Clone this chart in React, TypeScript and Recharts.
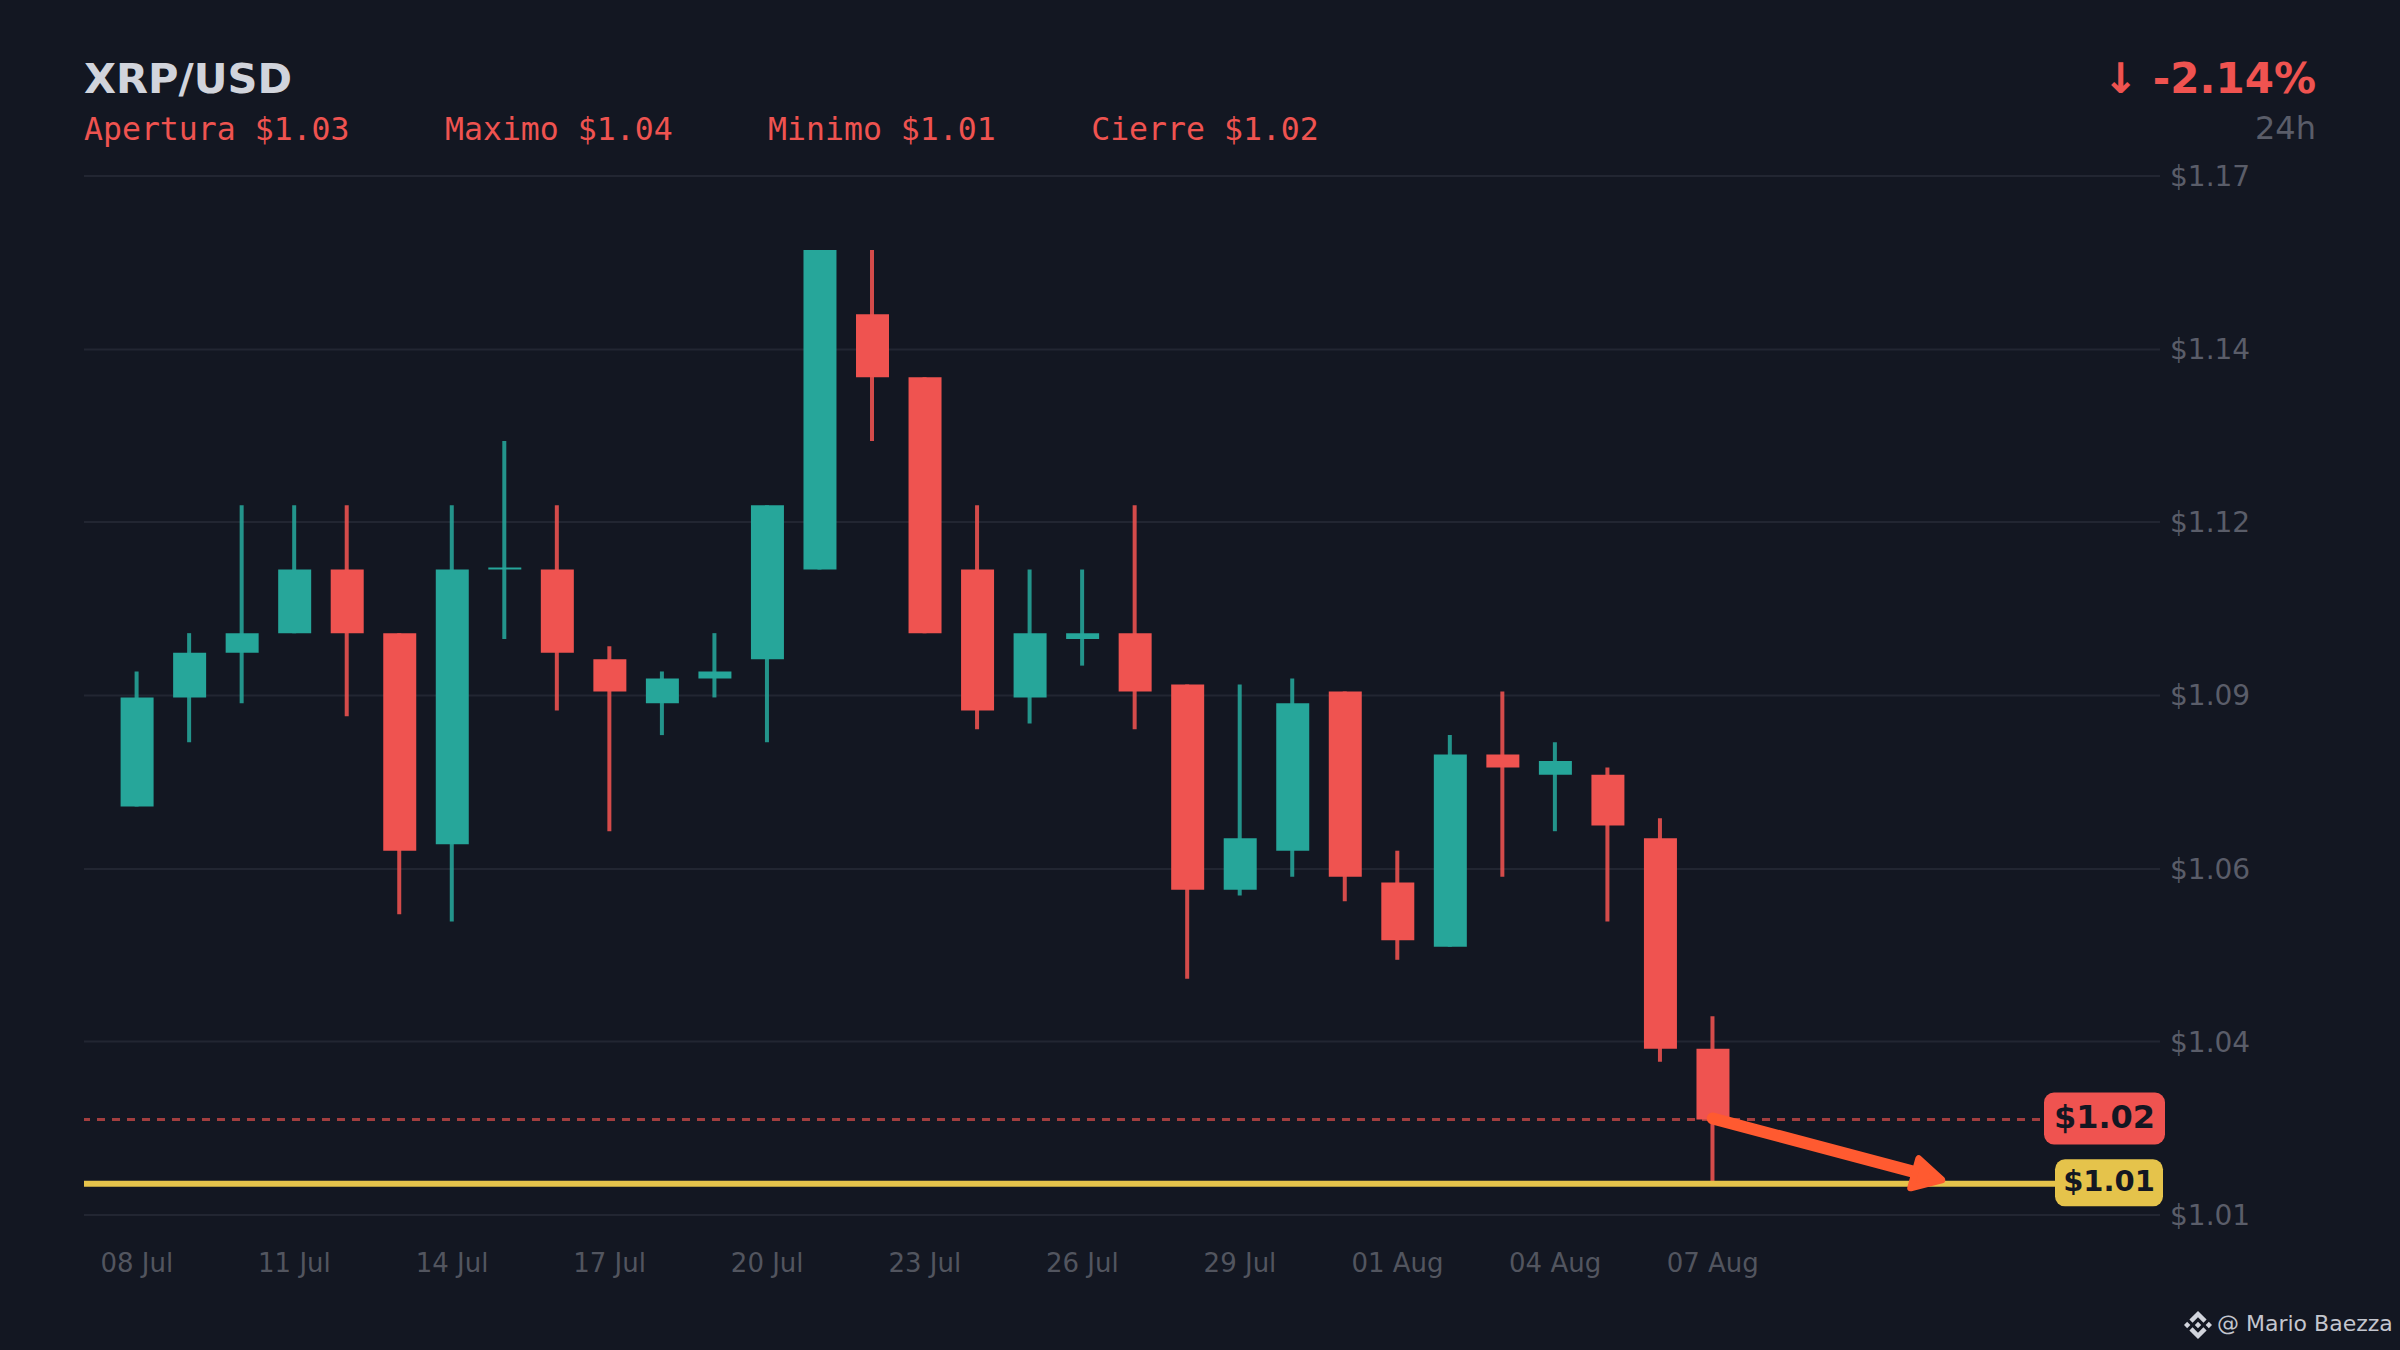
import { Bar, CartesianGrid, Cell, ComposedChart, ReferenceLine, XAxis, YAxis } from "recharts"

const dates = [
  "08 Jul", "09 Jul", "10 Jul", "11 Jul", "12 Jul", "13 Jul", "14 Jul", "15 Jul", "16 Jul", "17 Jul",
  "18 Jul", "19 Jul", "20 Jul", "21 Jul", "22 Jul", "23 Jul", "24 Jul", "25 Jul", "26 Jul", "27 Jul",
  "28 Jul", "29 Jul", "30 Jul", "31 Jul", "01 Aug", "02 Aug", "03 Aug", "04 Aug", "05 Aug", "06 Aug", "07 Aug",
]
const opens = [
  1.0729, 1.0897, 1.0966, 1.0996, 1.1094, 1.0996, 1.0671, 1.1094, 1.1094, 1.0956,
  1.0888, 1.0926, 1.0956, 1.1094, 1.1487, 1.139, 1.1094, 1.0897, 1.0987, 1.0996,
  1.0917, 1.0601, 1.0661, 1.0906, 1.0612, 1.0513, 1.0809, 1.0778, 1.0778, 1.068, 1.0356,
]
const highs = [
  1.0937, 1.0996, 1.1193, 1.1193, 1.1193, 1.0996, 1.1193, 1.1292, 1.1193, 1.0976,
  1.0937, 1.0996, 1.1193, 1.1586, 1.1586, 1.139, 1.1193, 1.1094, 1.1094, 1.1193,
  1.0917, 1.0917, 1.0926, 1.0906, 1.0661, 1.0839, 1.0906, 1.0828, 1.0789, 1.0711, 1.0406,
]
const lows = [
  1.0729, 1.0828, 1.0888, 1.0996, 1.0868, 1.0563, 1.0552, 1.0987, 1.0877, 1.0691,
  1.0839, 1.0897, 1.0828, 1.1094, 1.1292, 1.0996, 1.0848, 1.0857, 1.0946, 1.0848,
  1.0464, 1.0592, 1.0621, 1.0583, 1.0493, 1.0513, 1.0621, 1.0691, 1.0552, 1.0336, 1.0148,
]
const closes = [
  1.0897, 1.0966, 1.0996, 1.1094, 1.0996, 1.0661, 1.1094, 1.1097, 1.0966, 1.0906,
  1.0926, 1.0937, 1.1193, 1.1586, 1.139, 1.0996, 1.0877, 1.0996, 1.0996, 1.0906,
  1.0601, 1.068, 1.0888, 1.0621, 1.0523, 1.0809, 1.0789, 1.0799, 1.07, 1.0356, 1.0247,
]
const priceTicks = [1.01, 1.0367, 1.0633, 1.09, 1.1167, 1.1433, 1.17]
const lastClose = 1.0247
const periodLow = 1.0148
const stats = ["Apertura $1.03", "Maximo $1.04", "Minimo $1.01", "Cierre $1.02"]

const BG = "#131722"
const UP = "#26a69a"
const DOWN = "#ef5350"
const GOLD = "#e5c34b"
const ARROW = "#ff5a30"
const MUTED = "#5a5d69"
const SANS = "'DejaVu Sans', sans-serif"

const rows = dates.map((date, i) => ({
  date,
  wick: [lows[i], highs[i]],
  body: [Math.min(opens[i], closes[i]), Math.max(opens[i], closes[i])],
  up: closes[i] >= opens[i],
}))

// value tag on the right edge, hung on the reference line it belongs to
function PriceTag({ viewBox, text, fill, w, h, size, right }: any) {
  const x = viewBox.x + viewBox.width + right - w
  const cy = viewBox.y - 1
  return (
    <g>
      <rect x={x} y={cy - h / 2} width={w} height={h} rx={10} fill={fill} />
      <text x={x + w / 2} y={cy + size * 0.33 - 1.5} textAnchor="middle" fontFamily={SANS} fontWeight="bold" fontSize={size} fill={BG}>
        {text}
      </text>
    </g>
  )
}

function DropArrow({ x1, y1, y2 }: any) {
  const tipX = x1 + 233
  const tipY = y2 - 4
  return (
    <g>
      <line x1={x1} y1={y1 - 1} x2={tipX - 28} y2={tipY - 7} stroke={ARROW} strokeWidth={12} strokeLinecap="round" />
      <polygon
        points={`${tipX - 4},${tipY} ${tipX - 27},${tipY - 21} ${tipX - 35},${tipY + 8}`}
        fill={ARROW}
        stroke={ARROW}
        strokeWidth={7}
        strokeLinejoin="round"
      />
    </g>
  )
}

function BinanceMark() {
  return (
    <svg x={2184} y={1311} width={28} height={28} viewBox="0 0 126.61 126.61" fill="#d1d4dc">
      <path d="M38.73 53.2l24.59-24.58 24.6 24.6 14.3-14.31L63.32 0 24.42 38.9z" />
      <path d="M0 63.31l14.3-14.31 14.31 14.31-14.31 14.3z" />
      <path d="M38.73 73.41l24.59 24.59 24.6-24.6 14.31 14.29-38.9 38.91-38.91-38.88z" />
      <path d="M98 63.31l14.3-14.31 14.31 14.3-14.31 14.32z" />
      <path d="M77.83 63.3L63.32 48.78 52.59 59.51l-1.24 1.23-2.54 2.54 14.51 14.5 14.51-14.47z" />
    </svg>
  )
}

const textAt = (left: number, top: number, extra: any): any => ({
  position: "absolute",
  left,
  top,
  whiteSpace: "pre",
  lineHeight: 1,
  ...extra,
})

export default function App() {
  return (
    <div style={{ position: "absolute", left: 0, top: 0, width: 2400, height: 1350, background: BG, overflow: "hidden" }}>
      <ComposedChart
        width={2400}
        height={1350}
        data={rows}
        margin={{ top: 176, right: 0, bottom: 35, left: 84 }}
      >
        <CartesianGrid vertical={false} xAxisId="ticks" stroke="#2a2e39" strokeOpacity={0.7} strokeWidth={2} />
        <XAxis
          xAxisId="ticks"
          dataKey="date"
          interval={2}
          height={100}
          padding={{ left: 26.6, right: 421 }}
          axisLine={false}
          tickLine={false}
          tickMargin={3}
          tick={{ fill: "#52555f", fontSize: 26, fontFamily: SANS }}
        />
        <XAxis xAxisId="bodies" dataKey="date" hide padding={{ left: 26.6, right: 421 }} />
        <YAxis
          orientation="right"
          width={240}
          domain={[1.01, 1.17]}
          ticks={priceTicks}
          interval={0}
          axisLine={false}
          tickLine={false}
          tickMargin={4}
          tickFormatter={(v: number) => `$${v.toFixed(2)}`}
          tick={{ fill: MUTED, fontSize: 28, fontFamily: SANS }}
        />
        <Bar xAxisId="ticks" dataKey="wick" barSize={4} isAnimationActive={false} fillOpacity={0.88}>
          {rows.map((r) => (
            <Cell key={r.date} fill={r.up ? UP : DOWN} />
          ))}
        </Bar>
        <Bar xAxisId="bodies" dataKey="body" barSize={33} isAnimationActive={false}>
          {rows.map((r) => (
            <Cell key={r.date} fill={r.up ? UP : DOWN} />
          ))}
        </Bar>
        <ReferenceLine
          xAxisId="ticks"
          y={lastClose}
          stroke={DOWN}
          strokeOpacity={0.65}
          strokeWidth={3}
          strokeDasharray="8 7"
          label={<PriceTag text="$1.02" fill={DOWN} w={121} h={52} size={32} right={5} />}
        />
        <ReferenceLine
          xAxisId="ticks"
          y={periodLow}
          stroke={GOLD}
          strokeWidth={6}
          label={<PriceTag text="$1.01" fill={GOLD} w={108} h={47} size={29} right={3} />}
        />
        <ReferenceLine
          xAxisId="ticks"
          segment={[
            { x: dates[dates.length - 1], y: lastClose },
            { x: dates[dates.length - 1], y: periodLow },
          ]}
          shape={<DropArrow />}
        />
        <BinanceMark />
      </ComposedChart>

      <div style={textAt(84, 57.5, { fontFamily: SANS, fontWeight: "bold", fontSize: 41.6, color: "#d1d4dc" })}>XRP/USD</div>
      <div style={textAt(84, 114, { display: "flex", gap: 95.5, fontFamily: "'DejaVu Sans Mono', monospace", fontSize: 31.5, color: DOWN })}>
        {stats.map((s) => (
          <span key={s}>{s}</span>
        ))}
      </div>
      <div style={textAt(0, 57.5, { width: 2316, textAlign: "right", fontFamily: SANS, fontWeight: "bold", fontSize: 42, color: DOWN })}>↓ -2.14%</div>
      <div style={textAt(0, 112, { width: 2316, textAlign: "right", fontFamily: SANS, fontSize: 32, color: MUTED })}>24h</div>
      <div style={textAt(2217, 1313, { fontFamily: SANS, fontSize: 22, color: "#c3c6ce" })}>@ Mario Baezza</div>
    </div>
  )
}
